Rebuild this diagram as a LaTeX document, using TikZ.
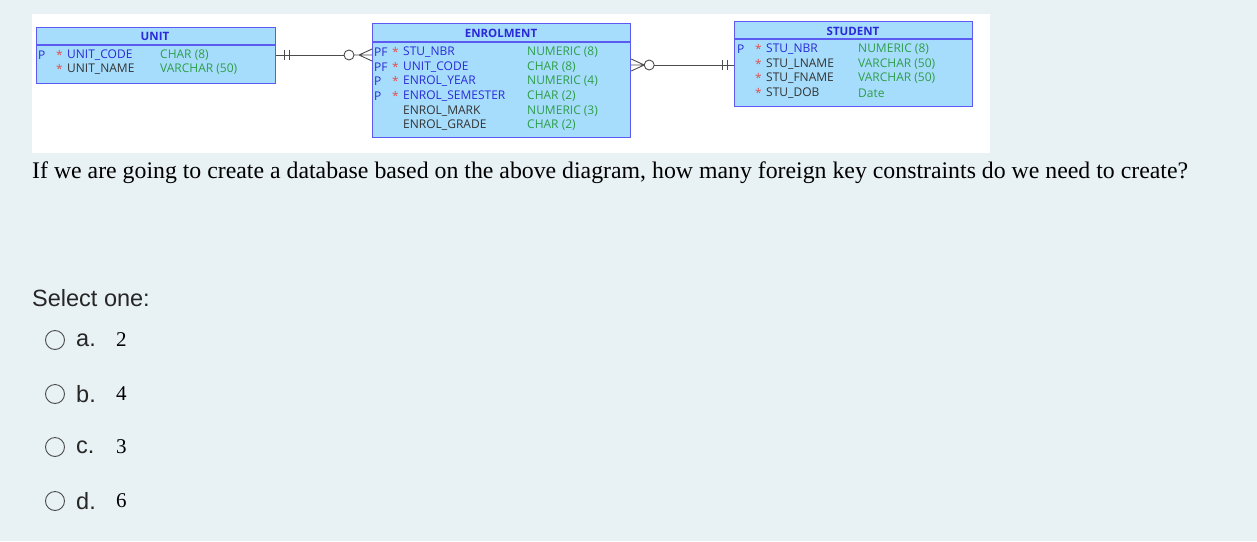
\documentclass[tikz,border=0pt]{standalone}
\usepackage{fontspec}
\setmainfont{Liberation Serif}
\newfontfamily\erfont{Open Sans}
\newfontfamily\uifont{Liberation Sans}
\begin{document}
\begin{tikzpicture}[x=1pt,y=-1pt,
  ent/.style={draw=ebord,line width=1.2pt,fill=efill,anchor=north west,inner sep=0},
  hd/.style={font=\erfont\bfseries\fontsize{11.5}{12}\selectfont,text=ehead,inner sep=0},
  t/.style={font=\erfont\fontsize{12}{12}\selectfont,anchor=west,inner sep=0},
  key/.style={t,text=ekey},
  att/.style={t,text=eatt},
  typ/.style={t,text=etyp},
  star/.style={t,text=estar},
  rel/.style={draw=black!70,line width=0.9pt},
  radio/.style={circle,draw=black!70,line width=0.9pt,minimum size=19pt,inner sep=0}]
\definecolor{bg}{HTML}{E8F1F4}
\definecolor{efill}{HTML}{A7DDFC}
\definecolor{ebord}{HTML}{5B5BF2}
\definecolor{ehead}{HTML}{2A2AD8}
\definecolor{ekey}{HTML}{2A2AD8}
\definecolor{eatt}{HTML}{333333}
\definecolor{etyp}{HTML}{2E9E4A}
\definecolor{estar}{HTML}{E05050}
\fill[bg] (0,0) rectangle (1257,541);
\useasboundingbox (0,0) rectangle (1257,541);
\fill[white] (32,14) rectangle (990,153);
% UNIT
\node[ent,minimum width=239pt,minimum height=56pt] (unit) at (36,27) {};
\draw[ebord,line width=1.2pt] (36,45) -- (275,45);
\node[hd] at (155,36) {UNIT};
\node[key] at (38,55) {P}; \node[star] at (56,55) {*}; \node[key] at (67,55) {UNIT\_CODE}; \node[typ] at (160,55) {CHAR (8)};
\node[star] at (56,69) {*}; \node[att] at (67,69) {UNIT\_NAME}; \node[typ] at (160,69) {VARCHAR (50)};
% ENROLMENT
\node[ent,minimum width=258pt,minimum height=114pt] (enr) at (372,23) {};
\draw[ebord,line width=1.2pt] (372,42) -- (630,42);
\node[hd] at (501,33) {ENROLMENT};
\node[key] at (374,52) {PF}; \node[star] at (392,52) {*}; \node[key] at (403,52) {STU\_NBR}; \node[typ] at (527,52) {NUMERIC (8)};
\node[key] at (374,67) {PF}; \node[star] at (392,67) {*}; \node[key] at (403,67) {UNIT\_CODE}; \node[typ] at (527,67) {CHAR (8)};
\node[key] at (374,81) {P}; \node[star] at (392,81) {*}; \node[key] at (403,81) {ENROL\_YEAR}; \node[typ] at (527,81) {NUMERIC (4)};
\node[key] at (374,96) {P}; \node[star] at (392,96) {*}; \node[key] at (403,96) {ENROL\_SEMESTER}; \node[typ] at (527,96) {CHAR (2)};
\node[att] at (403,111) {ENROL\_MARK}; \node[typ] at (527,111) {NUMERIC (3)};
\node[att] at (403,125) {ENROL\_GRADE}; \node[typ] at (527,125) {CHAR (2)};
% STUDENT
\node[ent,minimum width=238pt,minimum height=85pt] (stu) at (734,21) {};
\draw[ebord,line width=1.2pt] (734,39) -- (972,39);
\node[hd] at (853,31) {STUDENT};
\node[key] at (737,49) {P}; \node[star] at (755,49) {*}; \node[key] at (766,49) {STU\_NBR}; \node[typ] at (858,49) {NUMERIC (8)};
\node[star] at (755,64) {*}; \node[att] at (766,64) {STU\_LNAME}; \node[typ] at (858,64) {VARCHAR (50)};
\node[star] at (755,78) {*}; \node[att] at (766,78) {STU\_FNAME}; \node[typ] at (858,78) {VARCHAR (50)};
\node[star] at (755,93) {*}; \node[att] at (766,93) {STU\_DOB}; \node[typ] at (858,93) {Date};
% relationships
\coordinate (u1) at (unit.north east |- 0,55);
\coordinate (e1) at (enr.north west |- 0,55);
\draw[rel] (u1) -- ([xshift=-28pt]e1);
\draw[rel] ([xshift=8pt]u1) ++(0,-5) -- ++(0,10);
\draw[rel] ([xshift=13pt]u1) ++(0,-5) -- ++(0,10);
\draw[rel] ([xshift=-23pt]e1) circle (5pt);
\draw[rel] ([xshift=-18pt]e1) -- (e1) ([xshift=-13pt]e1) -- ([yshift=-6pt]e1) ([xshift=-13pt]e1) -- ([yshift=6pt]e1);
\coordinate (e2) at (enr.north east |- 0,65);
\coordinate (s2) at (stu.north west |- 0,65);
\draw[rel] ([xshift=23pt]e2) -- (s2);
\draw[rel] ([xshift=13pt]e2) -- (e2) ([xshift=13pt]e2) -- ([yshift=-6pt]e2) ([xshift=13pt]e2) -- ([yshift=6pt]e2);
\draw[rel] ([xshift=18pt]e2) circle (5pt);
\draw[rel] ([xshift=-12pt]s2) ++(0,-5) -- ++(0,10);
\draw[rel] ([xshift=-7pt]s2) ++(0,-5) -- ++(0,10);
% question
\node[anchor=west,inner sep=0,font=\fontsize{23.8}{28}\selectfont] (q) at (32,173) {If we are going to create a database based on the above diagram, how many foreign key constraints do we need to create?};
\node[anchor=west,inner sep=0,font=\uifont\fontsize{23.5}{28}\selectfont,text=black!85] (sel) at (32,298) {Select one:};
\foreach \y/\l/\n in {340/a./2,394/b./4,447/c./3,501/d./6}{
  \node[radio] (r\l) at (55,\y) {};
  \node[anchor=west,inner sep=0,font=\uifont\fontsize{23.5}{28}\selectfont,text=black!85] at (76,\y) {\l};
  \node[anchor=west,inner sep=0,font=\fontsize{21}{25}\selectfont] at (116,\y) {\n};
}
\end{tikzpicture}
\end{document}
